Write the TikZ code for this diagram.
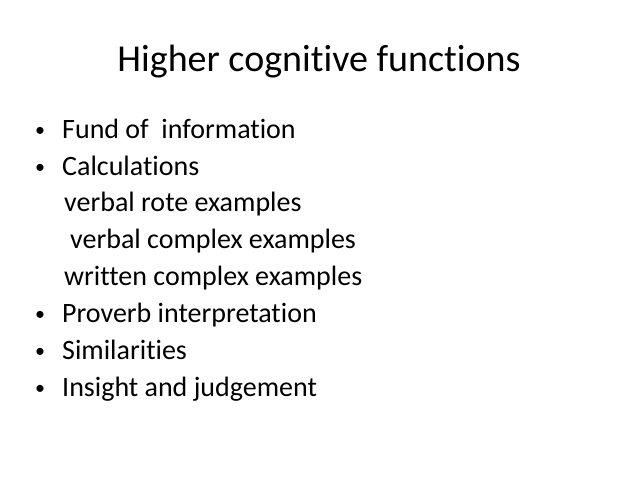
\documentclass[tikz,border=0pt]{standalone}
\usepackage{fontspec}
\setmainfont{Carlito}[RawFeature=-liga]
\begin{document}
\begin{tikzpicture}[x=1pt,y=-1pt,
  txt/.style={anchor=base west,inner sep=0pt,font=\fontsize{28}{32}\selectfont},
  bul/.style={anchor=base west,inner sep=0pt,font=\fontsize{20}{24}\selectfont}]
\useasboundingbox (0,0) rectangle (638,478);
\node[anchor=base,inner sep=0pt,font=\fontsize{38}{42}\selectfont] (title) at (319,72) {Higher cognitive functions};
\node[bul] (b1) at (35,137) {•}; \node[txt] (t1) at (62,139) {Fund of\ \ information};
\node[bul] (b2) at (35,174) {•}; \node[txt] (t2) at (62,176) {Calculations};
\node[txt] (t3) at (64,212) {verbal rote examples};
\node[txt] (t4) at (70,249) {verbal complex examples};
\node[txt] (t5) at (64,286) {written complex examples};
\node[bul] (b6) at (35,321) {•}; \node[txt] (t6) at (62,323) {Proverb interpretation};
\node[bul] (b7) at (35,358) {•}; \node[txt] (t7) at (62,360) {Similarities};
\node[bul] (b8) at (35,395) {•}; \node[txt] (t8) at (62,397) {Insight and judgement};
\end{tikzpicture}
\end{document}
